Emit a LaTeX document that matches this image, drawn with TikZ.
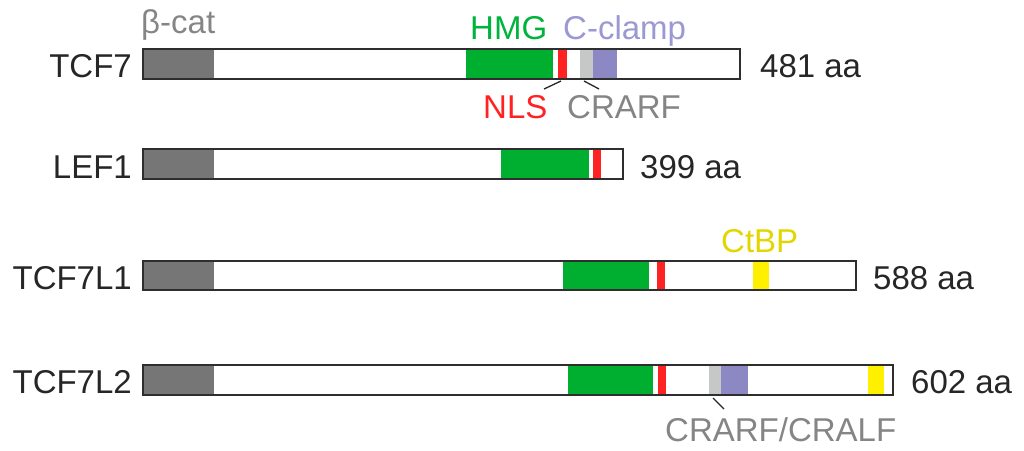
\documentclass[tikz,border=0pt]{standalone}
\usepackage{fontspec}
\setmainfont{Liberation Sans}
\definecolor{cbeta}{HTML}{767676}
\definecolor{chmg}{HTML}{00AF2F}
\definecolor{cnls}{HTML}{FF2222}
\definecolor{ccrarf}{HTML}{C6C8C8}
\definecolor{cclamp}{HTML}{8C88C4}
\definecolor{cctbp}{HTML}{FFF000}
\definecolor{tgray}{HTML}{858585}
\definecolor{thmg}{HTML}{00B33C}
\definecolor{tclamp}{HTML}{9C98D2}
\definecolor{tctbp}{HTML}{E2D600}
\begin{document}
\begin{tikzpicture}[x=1pt,y=-1pt,
  bar/.style={draw=black!82,line width=1.8pt,anchor=north west,inner sep=0,outer sep=0},
  lbl/.style={inner sep=0,font=\fontsize{33}{37}\selectfont,text=black!85},
  dom/.style={inner sep=0,font=\fontsize{33}{37}\selectfont},
  lead/.style={draw=black!85,line width=1.3pt}]
\useasboundingbox (0,0) rectangle (1024,450);
% ---------- TCF7 ----------
\fill[cbeta] (143,49) rectangle (214,79);
\fill[chmg] (466,49) rectangle (553,79);
\fill[cnls] (558,49) rectangle (567,79);
\fill[ccrarf] (580,49) rectangle (593,79);
\fill[cclamp] (593,49) rectangle (617,79);
\node[bar,minimum width=597pt,minimum height=30pt] (tcf7) at (143,49) {};
\node[lbl,anchor=base east] (tcf7n) at (132,77) {TCF7};
\node[lbl,anchor=base west] (tcf7aa) at (760,77) {481 aa};
\node[dom,anchor=base west,text=tgray] (bcat) at (141,33) {β-cat};
\node[dom,anchor=base west,text=thmg] (hmg) at (470,39) {HMG};
\node[dom,anchor=base west,text=tclamp] (clamp) at (563,39) {C-clamp};
\node[dom,anchor=base west,text=cnls] (nls) at (483,118) {NLS};
\node[dom,anchor=base west,text=tgray] (crarf) at (567,118) {CRARF};
\coordinate (nlsA) at (561,81);
\coordinate (nlsB) at (544,89);
\coordinate (crA) at (584,81);
\coordinate (crB) at (599,89);
\draw[lead] (nlsA) -- (nlsB);
\draw[lead] (crA) -- (crB);
% ---------- LEF1 ----------
\fill[cbeta] (143,149) rectangle (214,179);
\fill[chmg] (501,149) rectangle (589,179);
\fill[cnls] (593,149) rectangle (601,179);
\node[bar,minimum width=480pt,minimum height=30pt] (lef1) at (143,149) {};
\node[lbl,anchor=base east] (lef1n) at (132,178) {LEF1};
\node[lbl,anchor=base west] (lef1aa) at (640,178) {399 aa};
% ---------- TCF7L1 ----------
\fill[cbeta] (143,261) rectangle (214,290);
\fill[chmg] (563,261) rectangle (649,290);
\fill[cnls] (657,261) rectangle (665,290);
\fill[cctbp] (753,261) rectangle (769,290);
\node[bar,minimum width=713pt,minimum height=29pt] (tcf7l1) at (143,261) {};
\node[lbl,anchor=base east] (tcf7l1n) at (132,289) {TCF7L1};
\node[lbl,anchor=base west] (tcf7l1aa) at (873,289) {588 aa};
\node[dom,anchor=base west,text=tctbp] (ctbp) at (721,252) {CtBP};
% ---------- TCF7L2 ----------
\fill[cbeta] (143,365) rectangle (214,395);
\fill[chmg] (568,365) rectangle (653,395);
\fill[cnls] (658,365) rectangle (666,395);
\fill[ccrarf] (709,365) rectangle (721,395);
\fill[cclamp] (721,365) rectangle (748,395);
\fill[cctbp] (868,365) rectangle (884,395);
\node[bar,minimum width=750pt,minimum height=30pt] (tcf7l2) at (143,365) {};
\node[lbl,anchor=base east] (tcf7l2n) at (132,393) {TCF7L2};
\node[lbl,anchor=base west] (tcf7l2aa) at (911,393) {602 aa};
\node[dom,anchor=base west,text=tgray] (cralf) at (665,441) {CRARF/CRALF};
\coordinate (clA) at (713,398);
\coordinate (clB) at (724,409);
\draw[lead] (clA) -- (clB);
\end{tikzpicture}
\end{document}
